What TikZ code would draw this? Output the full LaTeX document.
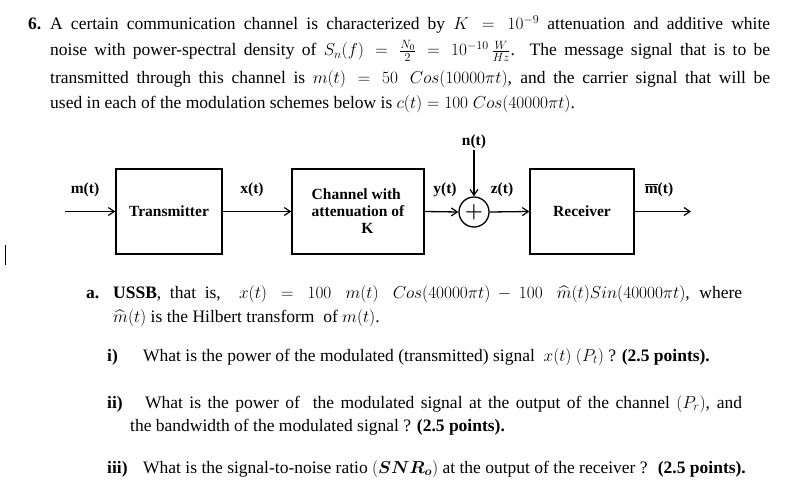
\documentclass[tikz,border=0pt]{standalone}
\usepackage{amsmath}
\usepackage{fontspec}
\setmainfont{Liberation Serif}
\usetikzlibrary{arrows.meta}
\begin{document}
\begin{tikzpicture}[x=1pt,y=-1pt,
  txt/.style={anchor=base west,inner sep=0pt,font=\fontsize{17.5}{20}\selectfont},
  blk/.style={draw,line width=1.3pt,minimum width=106pt,minimum height=85pt,inner sep=2pt,font=\fontsize{15.5}{17}\selectfont\bfseries},
  lab/.style={font=\fontsize{15.5}{17}\selectfont\bfseries,inner sep=1pt},
  sig/.style={line width=1.3pt,-{Straight Barb[length=6pt,width=8pt,line width=1.2pt]}}]
\useasboundingbox (0,0) rectangle (789,495);
% text
\node[txt] (n6) at (28,30) {\textbf{6.}};
\node[txt] (l1) at (50,30) {\makebox[720pt][s]{A certain communication channel is characterized by $K=10^{-9}$ attenuation and additive white}};
\node[txt] (l2) at (50,56) {\makebox[720pt][s]{noise with power-spectral density of $S_n(f)=\frac{N_0}{2}=10^{-10}\,\frac{W}{Hz}$. The message signal that is to be}};
\node[txt] (l3) at (50,83) {\makebox[720pt][s]{transmitted through this channel is $m(t)=50\;Cos(10000\pi t)$, and the carrier signal that will be}};
\node[txt] (l4) at (50,108) {used in each of the modulation schemes below is $c(t)=100\;Cos(40000\pi t)$.};
% diagram
\node[blk] (tx) at (169,211.5) {Transmitter};
\node[blk,minimum width=132pt,align=left] (ch) at (358,211.5) {Channel with\\attenuation of\\\hspace*{3.2em}K};
\node[draw,circle,line width=1.3pt,minimum size=30pt,inner sep=0pt,font=\huge\bfseries] (sum) at (474,212) {$\boldsymbol{+}$};
\node[blk,minimum width=104pt] (rx) at (582,211.5) {Receiver};
\coordinate (in) at (65,211.5);
\coordinate (out) at (691,211.5);
\node[lab] (nt) at (474,142) {n(t)};
\draw[sig] (in) -- (tx.west);
\draw[sig] (tx.east) -- (ch.west);
\draw[sig] (ch.east) -- (sum.west);
\draw[sig] (sum.east) -- (rx.west);
\draw[sig] (rx.east) -- (out);
\draw[sig] (nt.south) -- (sum.north);
\node[lab] (mt) at (85,190) {m(t)};
\node[lab] (xt) at (252,190) {x(t)};
\node[lab] (yt) at (445,190) {y(t)};
\node[lab] (zt) at (502,190) {z(t)};
\node[lab] (mh) at (659,190) {$\overline{\text{m}}$(t)};
\draw[line width=0.8pt] (5,245) -- (5,265);
% part a
\node[txt] (a) at (86,298) {\textbf{a.}};
\node[txt] (a1) at (113,298) {\makebox[629pt][s]{\textbf{USSB}, that is, \ $x(t)=100\;m(t)\;Cos(40000\pi t)-100\;\widehat{m}(t)Sin(40000\pi t)$, where}};
\node[txt] (a2) at (113,322) {$\widehat{m}(t)$ is the Hilbert transform \ of $m(t)$.};
\node[txt] (i) at (107,361) {\textbf{i)}};
\node[txt] (i1) at (143,361) {What is the power of the modulated (transmitted) signal \ $x(t)$ $(P_t)$ ? \textbf{(2.5 points).}};
\node[txt] (ii) at (107,408) {\textbf{ii)}};
\node[txt] (ii1) at (145,408) {\makebox[597pt][s]{What is the power of \ the modulated signal at the output of the channel $(P_r)$, and}};
\node[txt] (ii2) at (130,431) {the bandwidth of the modulated signal ? \textbf{(2.5 points).}};
\node[txt] (iii) at (107,473) {\textbf{iii)}};
\node[txt] (iii1) at (143,473) {What is the signal-to-noise ratio $(\boldsymbol{SNR_o})$ at the output of the receiver ? \ \textbf{(2.5 points).}};
\end{tikzpicture}
\end{document}
